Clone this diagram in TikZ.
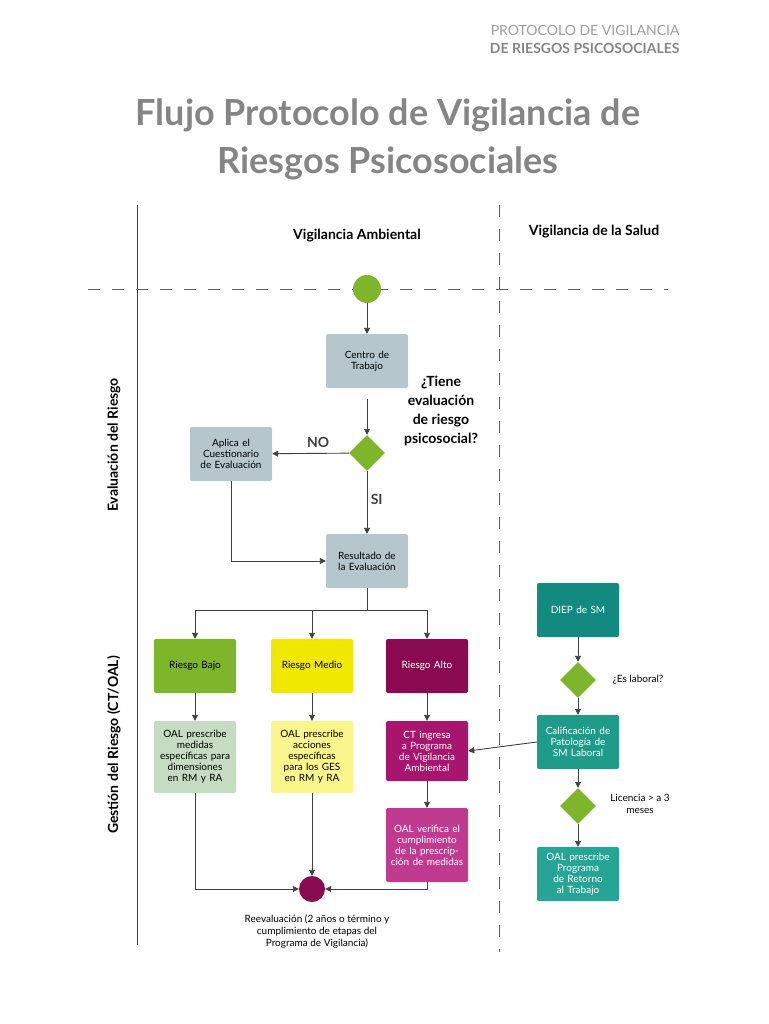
\documentclass[tikz,border=0pt]{standalone}
\usepackage{fontspec}
\setmainfont{Lato}
\usetikzlibrary{shapes.geometric,arrows.meta}
\definecolor{gtxt}{HTML}{858585}
\definecolor{ln}{HTML}{404040}
\definecolor{grn}{HTML}{7DB52B}
\definecolor{gbox}{HTML}{B5C7CD}
\definecolor{ylw}{HTML}{F0E800}
\definecolor{wine}{HTML}{8A0A52}
\definecolor{lgrn}{HTML}{C6DCC2}
\definecolor{lylw}{HTML}{FBF68C}
\definecolor{mag}{HTML}{A8156E}
\definecolor{pink}{HTML}{C03A8F}
\definecolor{teal1}{HTML}{138A80}
\definecolor{teal2}{HTML}{1F9B89}
\definecolor{teal3}{HTML}{26A596}
\begin{document}
\begin{tikzpicture}[x=1pt,y=-1pt,
 box/.style={rectangle,rounded corners=2pt,minimum width=82pt,minimum height=54pt,text width=76pt,align=center,font=\fontsize{10}{11}\selectfont,inner sep=2pt},
 dia/.style={diamond,fill=grn,minimum size=36pt,inner sep=0pt},
 arr/.style={-{Triangle[length=6pt,width=6pt]},ln,line width=0.9pt},
 lin/.style={ln,line width=0.9pt},
 dsh/.style={gtxt!70!black,line width=0.9pt,dash pattern=on 12pt off 12pt}]
\useasboundingbox (0,0) rectangle (768,1024);
\node[anchor=east,font=\fontsize{14}{16}\selectfont,text=gtxt!80] (h1) at (683,30) {PROTOCOLO DE VIGILANCIA};
\node[anchor=east,font=\fontsize{14}{16}\selectfont\bfseries,text=gtxt] (h2) at (683,48) {DE RIESGOS PSICOSOCIALES};
\node[align=center,font=\fontsize{36}{48}\selectfont\bfseries,text=gtxt] (title) at (388,139) {Flujo Protocolo de Vigilancia de\\Riesgos Psicosociales};
\draw[ln,line width=1pt] (137,205) -- (137,945);
\draw[dsh] (499,205) -- (499,952);
\draw[dsh] (88,289) -- (668,289);
\node[font=\fontsize{14}{16}\selectfont\bfseries] (va) at (357,236) {Vigilancia Ambiental};
\node[font=\fontsize{14}{16}\selectfont\bfseries] (vs) at (594,232) {Vigilancia de la Salud};
\node[rotate=90,font=\fontsize{14}{16}\selectfont\bfseries] (er) at (114,445) {Evaluación del Riesgo};
\node[rotate=90,font=\fontsize{14}{16}\selectfont\bfseries] (gr) at (114,745) {Gestión del Riesgo (CT/OAL)};
\node[circle,fill=grn,minimum size=28pt,inner sep=0pt] (start) at (367,289) {};
\node[box,fill=gbox] (ct) at (367,361) {Centro de Trabajo};
\node[dia] (d1) at (367,453) {};
\node[align=center,font=\fontsize{14}{19}\selectfont\bfseries] (q) at (441,411) {¿Tiene\\evaluación\\de riesgo\\psicosocial?};
\node[box,fill=gbox] (ap) at (231,454) {Aplica el Cuestionario de Evaluación};
\node[box,fill=gbox] (res) at (367,561) {Resultado de la Evaluación};
\draw[arr] (start) -- (ct);
\draw[arr] (367,399) -- (d1);
\draw[arr] (d1) -- node[above,pos=0.4,font=\fontsize{14}{16}\selectfont\bfseries,yshift=2pt]{NO} (ap);
\draw[arr] (d1) -- node[right,pos=0.45,font=\fontsize{14}{16}\selectfont\bfseries]{SI} (res);
\draw[arr] (ap.south) |- (res.west);
\node[box,fill=grn] (rb) at (195,666) {Riesgo Bajo};
\node[box,fill=ylw] (rm) at (312,666) {Riesgo Medio};
\node[box,fill=wine,text=white] (ra) at (427,666) {Riesgo Alto};
\coordinate (sp) at (367,610);
\draw[lin] (res.south) -- (sp);
\draw[lin] (195,610) -- (427,610);
\draw[arr] (195,610) -- (rb);
\draw[arr] (312,610) -- (rm);
\draw[arr] (427,610) -- (ra);
\node[box,fill=lgrn,minimum height=72pt] (o1) at (195,757) {OAL prescribe medidas específicas para dimensiones en RM y RA};
\node[box,fill=lylw,minimum height=72pt] (o2) at (312,757) {OAL prescribe acciones específicas para los GES en RM y RA};
\node[box,fill=mag,text=white,minimum height=60pt] (o3) at (427,751) {CT ingresa a Programa de Vigilancia Ambiental};
\node[box,fill=pink,text=white,minimum height=74pt] (o4) at (427,845) {OAL verifica el cumplimiento de la prescrip-\\ción de medidas};
\draw[arr] (rb) -- (o1);
\draw[arr] (rm) -- (o2);
\draw[arr] (ra) -- (o3);
\draw[arr] (o3) -- (o4);
\node[circle,fill=wine,minimum size=26pt,inner sep=0pt] (re) at (312,889) {};
\node[align=center,font=\fontsize{10}{12}\selectfont,anchor=north] (ret) at (317,911) {Reevaluación (2 años o término y\\cumplimiento de etapas del\\Programa de Vigilancia)};
\draw[arr] (o1.south) |- (re.west);
\draw[arr] (o2) -- (re);
\draw[arr] (o4.south) |- (re.east);
\node[box,fill=teal1,text=white] (diep) at (578,610) {DIEP de SM};
\node[dia] (d2) at (578,680) {};
\node[font=\fontsize{10}{12}\selectfont] (el) at (638,680) {¿Es laboral?};
\node[box,fill=teal2,text=white] (cal) at (578,742) {Calificación de Patología de SM Laboral};
\node[dia] (d3) at (578,806) {};
\node[align=center,font=\fontsize{10}{12}\selectfont] (lic) at (640,804) {Licencia > a 3\\meses};
\node[box,fill=teal3,text=white] (ret2) at (578,874) {OAL prescribe Programa de Retorno al Trabajo};
\draw[arr] (diep) -- (d2);
\draw[arr] (d2) -- (cal);
\draw[arr] (cal) -- (d3);
\draw[arr] (d3) -- (ret2);
\draw[arr] (cal.west) -- (o3.east);
\end{tikzpicture}
\end{document}
